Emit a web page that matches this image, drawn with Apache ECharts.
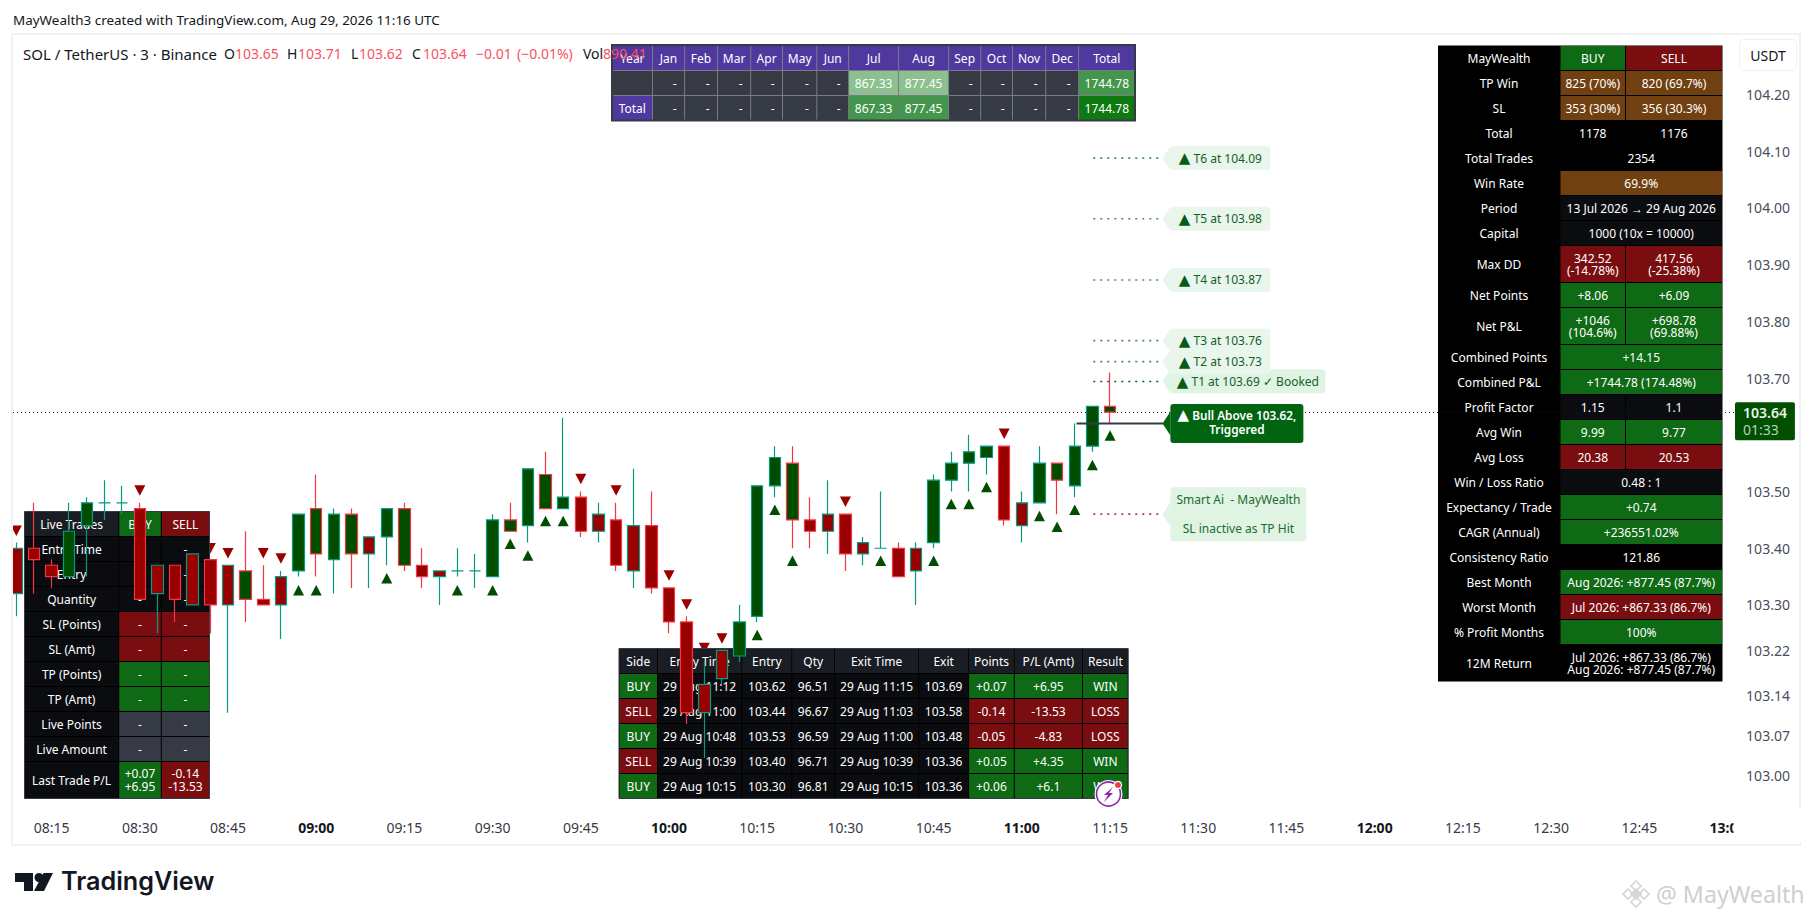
<!DOCTYPE html>
<html><head><meta charset="utf-8"><title>SOL / TetherUS</title>
<style>html,body{margin:0;padding:0;background:#fff}#c{width:1814px;height:920px}</style>
<script src="https://cdn.jsdelivr.net/npm/echarts@6/dist/echarts.min.js"></script></head>
<body><div id="c"></div><script>
// ---------- price data (3-minute bars from 08:09) ----------
const opens  = [103.32,103.40,103.37,103.35,103.44,103.48,103.48,103.47,103.32,103.37,103.30,103.38,103.30,103.36,103.31,103.30,103.36,103.47,103.38,103.46,103.39,103.42,103.47,103.37,103.35,103.36,103.36,103.35,103.45,103.44,103.53,103.47,103.49,103.43,103.45,103.36,103.44,103.33,103.27,103.11,103.17,103.21,103.28,103.51,103.55,103.45,103.43,103.46,103.39,103.40,103.40,103.36,103.41,103.52,103.55,103.56,103.58,103.44,103.48,103.55,103.51,103.58,103.65];
const closes = [103.40,103.38,103.35,103.43,103.48,103.48,103.48,103.31,103.37,103.31,103.39,103.30,103.37,103.31,103.30,103.35,103.46,103.39,103.46,103.39,103.42,103.47,103.37,103.35,103.36,103.36,103.36,103.45,103.43,103.54,103.47,103.49,103.43,103.46,103.37,103.44,103.33,103.27,103.11,103.16,103.22,103.27,103.51,103.56,103.45,103.43,103.46,103.39,103.41,103.40,103.35,103.40,103.52,103.55,103.57,103.58,103.45,103.48,103.55,103.52,103.58,103.65,103.64];
const lows   = [103.28,103.32,103.33,103.35,103.35,103.45,103.46,103.31,103.25,103.27,103.30,103.25,103.11,103.27,103.30,103.24,103.35,103.35,103.32,103.33,103.33,103.37,103.36,103.33,103.30,103.35,103.33,103.35,103.43,103.41,103.47,103.47,103.42,103.41,103.36,103.33,103.32,103.25,103.09,103.03,103.16,103.20,103.27,103.49,103.40,103.40,103.39,103.36,103.37,103.40,103.35,103.30,103.40,103.50,103.50,103.53,103.44,103.41,103.48,103.46,103.49,103.57,103.62];
const highs  = [103.41,103.48,103.38,103.48,103.49,103.52,103.51,103.48,103.37,103.37,103.39,103.38,103.37,103.43,103.37,103.36,103.46,103.53,103.47,103.47,103.42,103.47,103.48,103.40,103.36,103.40,103.39,103.46,103.48,103.54,103.57,103.63,103.50,103.48,103.48,103.54,103.50,103.33,103.28,103.20,103.22,103.30,103.51,103.58,103.58,103.49,103.52,103.46,103.42,103.50,103.41,103.41,103.53,103.57,103.60,103.58,103.58,103.50,103.58,103.55,103.62,103.65,103.71];
// bar regime from the indicator: B = bullish body, S = bearish body
const regime = 'SSSBBBBSSSSSSBSSBBBBSBBSSBBBBBBBSSSSSSSSSBBBBSSSSBSSBBBBSSBBBBB'.split('');
const buySignals  = [[16,103.326],[17,103.326],[21,103.347],[25,103.326],[27,103.326],[28,103.408],[29,103.387],[30,103.448],[31,103.448],[42,103.247],[43,103.468],[44,103.378],[49,103.378],[52,103.378],[53,103.478],[54,103.478],[55,103.508],[58,103.457],[59,103.438],[60,103.468],[61,103.547],[62,103.599]];
const sellSignals = [[0,103.431],[7,103.502],[11,103.40],[12,103.391],[14,103.391],[15,103.382],[32,103.522],[34,103.502],[37,103.352],[38,103.301],[39,103.224],[40,103.241],[47,103.482],[56,103.602]];
const timeTicks  = ['08:15','08:30','08:45','09:00','09:15','09:30','09:45','10:00','10:15','10:30','10:45','11:00','11:15','11:30','11:45','12:00','12:15','12:30','12:45','13:00'];
const priceTicks = [104.20,104.10,104.00,103.90,103.80,103.70,103.60,103.50,103.40,103.30,103.22,103.14,103.07,103.00];
const lastPrice = 103.64, countdown = '01:33';
const targetNames  = ['T6','T5','T4','T3','T2','T1'];
const targetPrices = [104.09,103.98,103.87,103.76,103.73,103.69];
const targetLevels = [104.088,103.981,103.873,103.766,103.729,103.694];
const targetNotes  = ['','','','','',' ✓ Booked'];
const entryPrice = 103.62, stopPrice = 103.46;
const entryText = '{t|▲} Bull Above 103.62,\nTriggered';
const stopText  = 'Smart Ai  - MayWealth\n\nSL inactive as TP Hit';
// ---------- monthly table ----------
const monthHead = ['Year','Jan','Feb','Mar','Apr','May','Jun','Jul','Aug','Sep','Oct','Nov','Dec','Total'];
const monthRow1 = ['','-','-','-','-','-','-','867.33','877.45','-','-','-','-','1744.78'];
const monthRow2 = ['Total','-','-','-','-','-','-','867.33','877.45','-','-','-','-','1744.78'];
// ---------- stats table ----------
const statLabels = ['MayWealth','TP Win','SL','Total','Total Trades','Win Rate','Period','Capital','Max DD','Net Points','Net P&L','Combined Points','Combined P&L','Profit Factor','Avg Win','Avg Loss','Win / Loss Ratio','Expectancy / Trade','CAGR (Annual)','Consistency Ratio','Best Month','Worst Month','% Profit Months','12M Return'];
const statBuy  = ['BUY','825 (70%)','353 (30%)','1178','2354','69.9%','13 Jul 2026 → 29 Aug 2026','1000 (10x = 10000)','342.52\n(-14.78%)','+8.06','+1046\n(104.6%)','+14.15','+1744.78 (174.48%)','1.15','9.99','20.38','0.48 : 1','+0.74','+236551.02%','121.86','Aug 2026: +877.45 (87.7%)','Jul 2026: +867.33 (86.7%)','100%','Jul 2026: +867.33 (86.7%)\nAug 2026: +877.45 (87.7%)'];
const statSell = ['SELL','820 (69.7%)','356 (30.3%)','1176',null,null,null,null,'417.56\n(-25.38%)','+6.09','+698.78\n(69.88%)',null,null,'1.1','9.77','20.53',null,null,null,null,null,null,null,null];
const statTone = ['g r','b b','b b','k k','k','b','d','d','r r','g g','g g','g','g','d d','g g','r r','d','g','g','k','g','r','g','k'];
// ---------- live trades table ----------
const liveLabels = ['Live Trades','Entry Time','Entry','Quantity','SL (Points)','SL (Amt)','TP (Points)','TP (Amt)','Live Points','Live Amount','Last Trade P/L'];
const liveBuy  = ['BUY','-','-','-','-','-','-','-','-','-','+0.07\n+6.95'];
const liveSell = ['SELL','-','-','-','-','-','-','-','-','-','-0.14\n-13.53'];
const liveTone = ['g r','d d','d d','d d','r r','r r','g g','g g','s s','s s','g r'];
// ---------- trade log table ----------
const logHead = ['Side','Entry Time','Entry','Qty','Exit Time','Exit','Points','P/L (Amt)','Result'];
const logRows = [
 ['BUY','29 Aug 11:12','103.62','96.51','29 Aug 11:15','103.69','+0.07','+6.95','WIN'],
 ['SELL','29 Aug 11:00','103.44','96.67','29 Aug 11:03','103.58','-0.14','-13.53','LOSS'],
 ['BUY','29 Aug 10:48','103.53','96.59','29 Aug 11:00','103.48','-0.05','-4.83','LOSS'],
 ['SELL','29 Aug 10:39','103.40','96.71','29 Aug 10:39','103.36','+0.05','+4.35','WIN'],
 ['BUY','29 Aug 10:15','103.30','96.81','29 Aug 10:15','103.36','+0.06','+6.1','WIN']];

// ---------- look ----------
const FONT = '"Noto Sans", sans-serif';
const TONE = {k:'#000000',g:'#0e6a14',r:'#7a0d10',b:'#704011',d:'#0a0c10',s:'#363a45',h:'#1a1d23',
              p:'#4f399f',m:'#363a45',l:'#8cc08e',t:'#43964b',v:'#0f7a12'};
const TEAL='#089981',PINK='#f23645',GRN='#004d00',RED='#990000';
const Z_SIGNAL=1,Z_TABLE=2,Z_CANDLE=5,Z_TOP=30;
const gfx=[];
const rect=(x,y,w,h,fill,z,extra)=>gfx.push({type:'rect',z:z,silent:true,shape:Object.assign({x,y,width:w,height:h},extra&&extra.shape),style:Object.assign({fill},extra&&extra.style)});
const text=(x,y,t,o)=>gfx.push({type:'text',z:(o&&o.z)||Z_TABLE,silent:true,x,y,style:{text:t,fill:(o&&o.fill)||'#fff',fontFamily:(o&&o.family)||FONT,fontSize:(o&&o.size)||12,fontWeight:(o&&o.weight)||'normal',align:(o&&o.align)||'center',verticalAlign:'middle',lineHeight:(o&&o.lh)||12.5,opacity:o&&o.op}});
function cell(x0,y0,x1,y1,fill,label,align,gap,dy){
  const g=gap==null?0.5:gap;
  rect(x0+g,y0+g,x1-x0-2*g,y1-y0-2*g,fill,Z_TABLE);
  if(label==null||label==='')return;
  const tx=align==='right'?x1-8:(x0+x1)/2;
  text(tx,(y0+y1)/2+(dy||0),label,{align:align||'center'});
}
// monthly
(function(){
  const xs=[612,652.5,684.6,717.5,750.7,782.5,816.8,848.6,898.6,948.6,980.7,1012.5,1045.7,1078.6,1135];
  const ys=[45,70.5,95.5,120.5];
  rect(xs[0],ys[0],xs[14]-xs[0],ys[3]-ys[0],'#787b86',Z_TABLE);
  monthHead.forEach((t,i)=>cell(xs[i],ys[0],xs[i+1],ys[1],TONE.p,t,null,0.5,0.8));
  monthRow1.forEach((t,i)=>{const f=i===7||i===8?TONE.l:i===13?TONE.t:TONE.m;cell(xs[i],ys[1],xs[i+1],ys[2],f,t,t==='-'?'right':'center',0.5,0.5);});
  monthRow2.forEach((t,i)=>{const f=i===0?TONE.p:i===7||i===8?TONE.t:i===13?TONE.v:TONE.m;cell(xs[i],ys[2],xs[i+1],ys[3],f,t,t==='-'?'right':'center',0.5,0.5);});
  rect(xs[0],ys[0],xs[14]-xs[0],ys[3]-ys[0],'none',Z_TABLE,{style:{stroke:'#363a45',lineWidth:2}});
})();
// stats
(function(){
  const xs=[1438,1560,1625.5,1722.5];
  let y=45.6;const top=y;
  const hs=statBuy.map((v,i)=>(v.includes('\n')?37:25));
  const total=hs.reduce((a,b)=>a+b,0);
  rect(xs[0],top,xs[3]-xs[0],total,'#000',Z_TABLE);
  statLabels.forEach((lab,i)=>{
    const h=hs[i],tones=statTone[i].split(' ');
    text((xs[0]+xs[1])/2,y+h/2+0.4,lab);
    if(statSell[i]==null) cell(xs[1],y,xs[3],y+h,TONE[tones[0]],statBuy[i],null,0.5,0.4);
    else {cell(xs[1],y,xs[2],y+h,TONE[tones[0]],statBuy[i],null,0.5,0.4);cell(xs[2],y,xs[3],y+h,TONE[tones[1]],statSell[i],null,0.5,0.4);}
    y+=h;
  });
})();
// live trades
(function(){
  const xs=[24.5,118.7,161.3,209.5];
  const h=25;let y=511.5;const top=y;
  const H=25*10+37;
  rect(xs[0],top,xs[3]-xs[0],H,'#000',Z_TABLE);
  liveLabels.forEach((lab,i)=>{
    const rh=i===10?37:h,t=liveTone[i].split(' ');
    cell(xs[0],y,xs[1],y+rh,i===0?TONE.h:TONE.d,lab,null,0.4);
    cell(xs[1],y,xs[2],y+rh,TONE[t[0]],liveBuy[i]);
    cell(xs[2],y,xs[3],y+rh,TONE[t[1]],liveSell[i]);
    y+=rh;
  });
  rect(xs[0],top,xs[3]-xs[0],H,'none',Z_TABLE,{style:{stroke:'#363a45',lineWidth:1}});
})();
// trade log
(function(){
  const xs=[619,657.5,741.8,791.8,834.6,918.6,968.6,1014.3,1082.5,1128.2];
  const y0=648.5,h=25;
  rect(xs[0],y0,xs[9]-xs[0],h*6,'#000',Z_TABLE);
  logHead.forEach((t,i)=>cell(xs[i],y0,xs[i+1],y0+h,TONE.h,t,null,0.4));
  logRows.forEach((row,r)=>{
    const y=y0+h*(r+1);
    row.forEach((t,i)=>{
      let f=TONE.d;
      if(i===0)f=t==='BUY'?TONE.g:TONE.r;
      if(i>=6)f=row[8]==='WIN'?TONE.g:TONE.r;
      cell(xs[i],y,xs[i+1],y+h,f,t);
    });
  });
  rect(xs[0],y0,xs[9]-xs[0],h*6,'none',Z_TABLE,{style:{stroke:'#363a45',lineWidth:1}});
})();
// page furniture
rect(0,33,12.5,775,'#fff',20);
rect(12,34,1788,811,'none',21,{style:{stroke:'#f1f2f4',lineWidth:2}});
text(13,20,'MayWealth3 created with TradingView.com, Aug 29, 2026 11:16 UTC',{align:'left',fill:'#131722',size:13.45,z:Z_TOP});
[['SOL / TetherUS · 3 · Binance',23,'#131722',15],['O',224,'#131722'],['103.65',235,'#f7525f'],['H',287,'#131722'],['103.71',298,'#f7525f'],['L',351,'#131722'],['103.62',359,'#f7525f'],['C',412,'#131722'],['103.64',423,'#f7525f'],['−0.01',476,'#f7525f'],['(−0.01%)',517,'#f7525f'],['Vol',583,'#131722'],['890.41',603,'#f7525f']]
 .forEach(a=>text(a[1],53.5,a[0],{align:'left',fill:a[2],size:a[3]||14,z:Z_TOP}));
rect(1733.5,808,70,34,'#fff',Z_TOP);
rect(1739.5,39.5,57,31,'#fff',Z_TOP,{shape:{r:4},style:{stroke:'#eef0f3',lineWidth:1}});
text(1768,55,'USDT',{fill:'#131722',size:14,z:Z_TOP});
// lightning badge
gfx.push({type:'circle',z:Z_TOP,silent:true,shape:{cx:1108.5,cy:794,r:14},style:{fill:'#fff'}});
gfx.push({type:'circle',z:Z_TOP,silent:true,shape:{cx:1108.5,cy:794,r:12},style:{fill:'#fff',stroke:'#8e24aa',lineWidth:1.6}});
gfx.push({type:'polygon',z:Z_TOP,silent:true,shape:{points:[[1113,787],[1104,795],[1108,795],[1104,802],[1113,793],[1109,793]]},style:{fill:'#8e24aa'}});
gfx.push({type:'circle',z:Z_TOP,silent:true,shape:{cx:1118,cy:785,r:3.6},style:{fill:'#f23645',stroke:'#fff',lineWidth:1.2}});
// TradingView logo
gfx.push({type:'polygon',z:Z_TOP,silent:true,shape:{points:[[15,873],[33,873],[33,891],[24,891],[24,882],[15,882]]},style:{fill:'#131722'}});
gfx.push({type:'circle',z:Z_TOP,silent:true,shape:{cx:39,cy:877.5,r:4.5},style:{fill:'#131722'}});
gfx.push({type:'polygon',z:Z_TOP,silent:true,shape:{points:[[43.5,873],[53,873],[44,891],[34,891]]},style:{fill:'#131722'}});
text(61,881,'TradingView',{align:'left',fill:'#131722',size:25.2,weight:600,family:'Inter, sans-serif',z:Z_TOP});
// watermark
[[0,-8],[-8,0],[8,0],[0,8],[0,0]].forEach(d=>gfx.push({type:'polygon',z:Z_TOP,silent:true,shape:{points:[[1636+d[0],889+d[1]],[1641+d[0],894+d[1]],[1636+d[0],899+d[1]],[1631+d[0],894+d[1]]]},style:{fill:d[0]===0&&d[1]===0?'#d6d6d6':'none',stroke:'#d6d6d6',lineWidth:1.6}}));
text(1656,894,'@ MayWealth',{align:'left',fill:'#cfcfcf',size:23.2,z:Z_TOP});

// ---------- chart ----------
const bars=opens.map((o,i)=>{
  const up=closes[i]>=o, edge=up?TEAL:PINK, fill=regime[i]==='B'?GRN:RED;
  return {value:[i,o,closes[i],lows[i],highs[i]],itemStyle:{color:fill,color0:fill,borderColor:edge,borderColor0:edge,borderColorDoji:edge}};
});
const LINE_X0=61.05,LINE_X1=65.0,TIP_X=65.2,BOX_X=65.42,BULL_X0=60.1;
const levelLine=(name,x0,p,color,type,w)=>({type:'line',name,z:6,silent:true,showSymbol:false,symbol:'none',data:[[x0,p],[LINE_X1,p]],lineStyle:{color,type,width:w}});
const levelBox=(name,p,label,style,z)=>({type:'scatter',name,z,silent:true,symbolSize:0,itemStyle:{opacity:1},data:[[BOX_X,p]],label:Object.assign({show:true,opacity:1,position:'right',distance:0,offset:[style.width/2,0],formatter:label,fontFamily:FONT,fontSize:12,align:'center',verticalAlign:'middle',borderRadius:3},style)});
const tip=(p,color,size,z)=>({type:'scatter',z,silent:true,symbol:'triangle',symbolRotate:90,symbolSize:size,data:[[TIP_X,p]],itemStyle:{color,opacity:1}});
const richTri=(c,lh)=>({t:{fontSize:15,color:c,fontFamily:'"DejaVu Sans"',lineHeight:lh}});
const series=[
 {type:'scatter',name:'Buy signal',z:Z_SIGNAL,silent:true,symbol:'triangle',symbolSize:[11,10.5],data:buySignals,itemStyle:{color:GRN,opacity:1}},
 {type:'scatter',name:'Sell signal',z:Z_SIGNAL,silent:true,symbol:'triangle',symbolRotate:180,symbolSize:[11,10.5],data:sellSignals,itemStyle:{color:RED,opacity:1}},
 {type:'candlestick',name:'SOLUSDT',z:Z_CANDLE,barWidth:12,silent:true,data:bars,itemStyle:{borderWidth:1.2},
  markLine:{silent:true,symbol:'none',z:Z_CANDLE,animation:false,
    lineStyle:{color:'#131722',type:[1,3],width:1},
    label:{show:true,position:'end',distance:1,offset:[0,9],formatter:'{a|'+lastPrice.toFixed(2)+'}\n{b|'+countdown+'}',backgroundColor:'#015001',borderRadius:2,padding:[2,8,2,8],
      rich:{a:{color:'#e8f3e8',fontFamily:FONT,fontSize:14,lineHeight:17,fontWeight:600},b:{color:'#b5d4b5',fontFamily:FONT,fontSize:14,lineHeight:17}}},
    data:[{yAxis:lastPrice}]}}
];
targetNames.forEach((n,i)=>{
  const p=targetLevels[i], booked=targetNotes[i]!=='';
  series.push(levelLine(n+' line',LINE_X0,p,booked?'rgba(0,85,25,.95)':'rgba(0,95,35,.72)',[2,5],1.7));
  const bg=booked?'#dff4e2':'#e9f6ec';
  const z=i===3?7:i===4?9:8;
  series.push(tip(p,bg,[24,8],z));
  series.push(levelBox(n+' label',p,'{t|▲} '+n+' at '+targetPrices[i].toFixed(2)+targetNotes[i],{color:'#14602a',backgroundColor:bg,width:booked?155:100,height:24,lineHeight:24,rich:richTri('#0b5a14',24)},z));
});
series.push(levelLine('Entry line',BULL_X0,entryPrice,'#363a45','solid',2));
series.push(tip(entryPrice,'#016410',[24,8],10));
series.push(levelBox('Entry label',entryPrice,entryText,{color:'#fff',backgroundColor:'#016410',width:133,height:35,padding:[4,0,0,0],lineHeight:14,fontSize:11.8,fontWeight:600,rich:richTri('#fff',14)},10));
series.push(levelLine('Stop line',LINE_X0,stopPrice,'rgba(135,30,45,.85)',[2,5],1.7));
series.push(tip(stopPrice,'#dff4e2',[24,8],10));
series.push(levelBox('Stop label',stopPrice,stopText,{color:'#1d6b32',backgroundColor:'#dff4e2',width:136,height:54,lineHeight:14.5},10));

const chart=echarts.init(document.getElementById('c'),null,{renderer:'svg',width:1814,height:920});
chart.setOption({
  animation:false,backgroundColor:'#fff',
  grid:{left:13,top:35,width:1721,height:771,containLabel:false},
  xAxis:{type:'value',min:-0.1875,max:97.37,splitLine:{show:false},axisLine:{show:false},axisTick:{show:false},
    axisLabel:{margin:14,color:'#363a45',fontFamily:FONT,fontSize:14,hideOverlap:false,showMinLabel:true,showMaxLabel:true,
      customValues:timeTicks.map((_,i)=>2+5*i),
      formatter:v=>{const t=timeTicks[(v-2)/5];return t.endsWith(':00')?'{b|'+t+'}':t;},
      rich:{b:{fontWeight:'bold',color:'#131722',fontFamily:FONT,fontSize:14}}}},
  yAxis:{type:'value',position:'right',min:102.9455,max:104.305,splitLine:{show:false},axisLine:{show:false},axisTick:{show:false},
    axisLabel:{margin:34,align:'center',color:'#4a4e59',fontFamily:FONT,fontSize:14,customValues:priceTicks,formatter:v=>v.toFixed(2)}},
  series:series,
  graphic:{elements:gfx}
});
</script></body></html>
